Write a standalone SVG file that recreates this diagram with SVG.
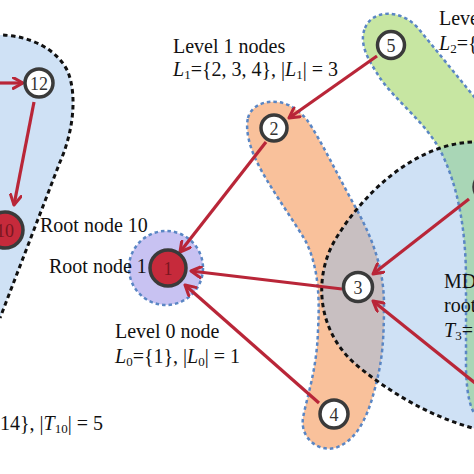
<svg xmlns="http://www.w3.org/2000/svg" width="474" height="474" viewBox="0 0 474 474">
<style>
.txt{font-family:"Liberation Serif","Times New Roman",serif;font-size:20px;fill:#111}
.it{font-style:italic}
.sub{font-size:13px}
.node circle{stroke:#3a3a3a;stroke-width:3.5}
.white{fill:#fff}
.red{fill:#c62a3b}
.lbl{font-family:"Liberation Serif","Times New Roman",serif;font-size:18px;fill:#333;text-anchor:middle;dominant-baseline:central}
.blued{fill:none;stroke:#5a86c4;stroke-width:2.5;stroke-dasharray:3.5 3}
.blackd{fill:none;stroke:#111;stroke-width:3;stroke-dasharray:4.5 3.5}
.arrow{fill:none;stroke:#b92638;stroke-width:3.2;marker-end:url(#ah)}
</style>
<defs>
<marker id="ah" viewBox="0 0 12 12" refX="10.5" refY="6" markerWidth="13" markerHeight="13" markerUnits="userSpaceOnUse" orient="auto">
<path d="M1.5,1 L10.5,6 L1.5,11" fill="none" stroke="#b92638" stroke-width="2.8" stroke-linecap="round" stroke-linejoin="round"/>
</marker>
<path id="t3" d="M480,142 C420,140 365,190 335,240 C312,280 318,335 360,368 C400,400 440,420 480,430 Z"/>
<path id="orange" d="M248,118 C252,100 285,92 307,120 C320,138 340,180 357,210 C372,238 384,268 384,305 C384,340 382,360 377,380 C370,410 360,440 335,448 C318,452 300,438 303,418 C306,400 317,370 318,330 C320,295 318,265 305,240 C290,215 268,185 257,162 C250,148 245,130 248,118 Z"/>
<path id="green" d="M365,28 C372,10 400,8 418,28 L480,104 L480,420 C470,412 467,395 466,370 L466,280 C466,230 458,185 440,150 C425,122 395,100 380,78 C370,62 358,45 365,28 Z"/>
<clipPath id="t3clip"><use href="#t3"/></clipPath>
</defs>

<g id="regions">
<path id="t10" d="M-5,35 C30,34 58,50 68,72 C78,98 72,135 60,162 L0,318 L-5,318 Z" fill="#cfe1f5"/>
<use href="#t3" fill="#cfe1f5"/>
<use href="#orange" fill="#f9c19b"/>
<use href="#orange" fill="#c8bfc1" clip-path="url(#t3clip)"/>
<use href="#green" fill="#c7e6a2"/>
<use href="#green" fill="#a9d6b6" clip-path="url(#t3clip)"/>
<use href="#orange" class="blued"/>
<use href="#green" class="blued"/>
<path d="M-5,35 C30,34 58,50 68,72 C78,98 72,135 60,162 L0,318" class="blackd"/>
<path d="M480,142 C420,140 365,190 335,240 C312,280 318,335 360,368 C400,400 440,420 480,430" class="blackd"/>
<circle id="l0" cx="166" cy="268" r="37" fill="#c8c2f2" stroke="#5a86c4" stroke-width="2.5" stroke-dasharray="3.5 3"/>
</g>

<g id="connectors">
<line class="arrow" x1="-5" y1="83" x2="23" y2="83"/>
<line class="arrow" x1="34" y1="102" x2="14" y2="205"/>
<line class="arrow" x1="377" y1="56" x2="289" y2="118"/>
<line class="arrow" x1="266" y1="142" x2="180" y2="252"/>
<line class="arrow" x1="342" y1="289" x2="191" y2="271"/>
<line class="arrow" x1="319" y1="403" x2="185" y2="285"/>
<line class="arrow" x1="469" y1="199" x2="373" y2="274"/>
<line class="arrow" x1="480" y1="387" x2="373" y2="301"/>
</g>

<g id="node12" class="node"><circle class="white" cx="39" cy="83" r="14"/><text class="lbl" x="39" y="84">12</text></g>
<g id="node10" class="node"><circle class="red" cx="5" cy="230" r="18"/><text class="lbl" x="5" y="231" style="fill:#7a1620">10</text></g>
<g id="node1" class="node"><circle class="red" cx="168" cy="268" r="18"/><text class="lbl" x="168" y="269" style="fill:#7a1620">1</text></g>
<g id="node2" class="node"><circle class="white" cx="274" cy="128" r="13"/><text class="lbl" x="274" y="129">2</text></g>
<g id="node5" class="node"><circle class="white" cx="391" cy="45" r="13.5"/><text class="lbl" x="391" y="46">5</text></g>
<g id="node3" class="node"><circle class="white" cx="358" cy="287" r="14.5"/><text class="lbl" x="358" y="288">3</text></g>
<g id="node4" class="node"><circle class="white" cx="334" cy="414" r="14"/><text class="lbl" x="334" y="415">4</text></g>
<g id="node6" class="node"><circle class="white" cx="489" cy="187" r="15"/></g>

<g id="labels">
<text class="txt" x="173" y="53">Level 1 nodes</text>
<text class="txt" x="173" y="76"><tspan class="it">L</tspan><tspan class="sub" dy="3">1</tspan><tspan dy="-3">={2, 3, 4}, |</tspan><tspan class="it">L</tspan><tspan class="sub" dy="3">1</tspan><tspan dy="-3">| = 3</tspan></text>
<text class="txt" x="40" y="232">Root node 10</text>
<text class="txt" x="49" y="273">Root node 1</text>
<text class="txt" x="115" y="338">Level 0 node</text>
<text class="txt" x="115" y="363"><tspan class="it">L</tspan><tspan class="sub" dy="3">0</tspan><tspan dy="-3">={1}, |</tspan><tspan class="it">L</tspan><tspan class="sub" dy="3">0</tspan><tspan dy="-3">| = 1</tspan></text>
<text class="txt" x="103" y="430" text-anchor="end">14}, |<tspan class="it">T</tspan><tspan class="sub" dy="3">10</tspan><tspan dy="-3">| = 5</tspan></text>
<text class="txt" x="439" y="25">Level</text>
<text class="txt" x="439" y="50"><tspan class="it">L</tspan><tspan class="sub" dy="3">2</tspan><tspan dy="-3">={</tspan></text>
<text class="txt" x="444" y="288">MD</text>
<text class="txt" x="444" y="312">root</text>
<text class="txt" x="444" y="337"><tspan class="it">T</tspan><tspan class="sub" dy="3">3</tspan><tspan dy="-3">=</tspan></text>
</g>
</svg>
